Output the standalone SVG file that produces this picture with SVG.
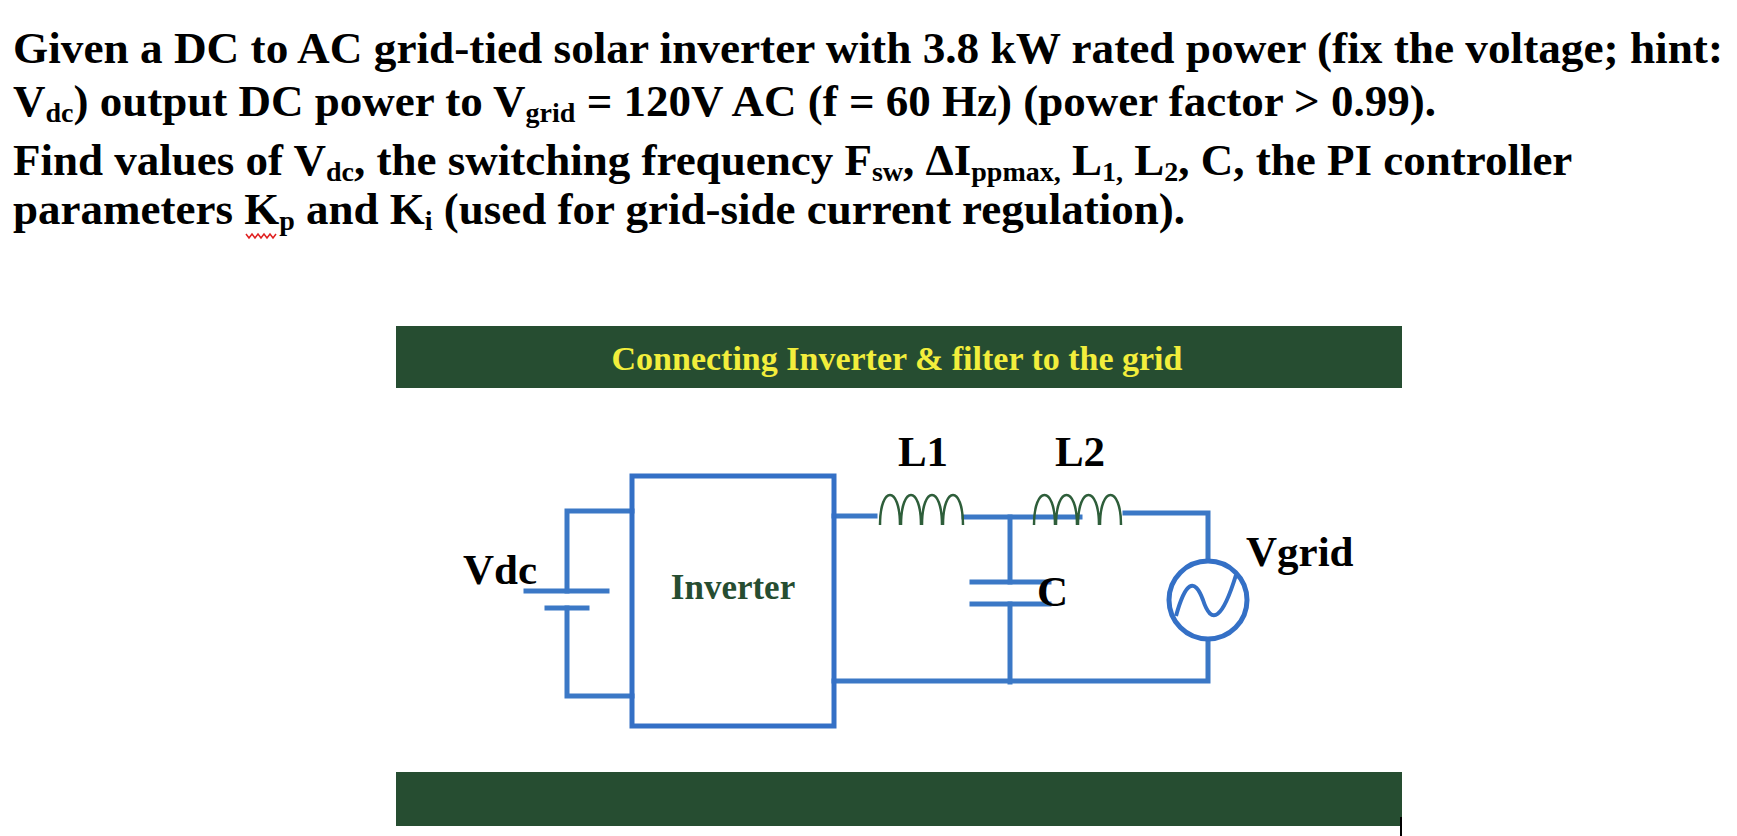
<svg xmlns="http://www.w3.org/2000/svg" width="1737" height="836" viewBox="0 0 1737 836">
<style>
.q{font-family:"Liberation Serif",serif;font-weight:bold;font-size:45px;fill:#000}
.w{fill:none;stroke:#3b78c6;stroke-width:5;stroke-linecap:square}
.coil{fill:none;stroke:#2e5e3a;stroke-width:2.5}
.lbl{font-family:"Liberation Serif",serif;font-weight:bold;font-size:43px;fill:#000}
.band{fill:#264d31}
</style>
<rect width="1737" height="836" fill="#fff"/>
<g id="question">
<text class="q" x="13" y="63" textLength="1710" lengthAdjust="spacingAndGlyphs">Given a DC to AC grid-tied solar inverter with 3.8 kW rated power (fix the voltage; hint:</text>
<text class="q" x="13" y="116">V<tspan font-size="28" dy="6">dc</tspan><tspan dy="-6">) output DC power to V</tspan><tspan font-size="28" dy="6">grid</tspan><tspan dy="-6"> = 120V AC (f = 60 Hz) (power factor &gt; 0.99).</tspan></text>
<text class="q" x="13" y="175">Find values of V<tspan font-size="28" dy="6">dc</tspan><tspan dy="-6">, the switching frequency F</tspan><tspan font-size="28" dy="6">sw</tspan><tspan dy="-6">, ΔI</tspan><tspan font-size="28" dy="6">ppmax,</tspan><tspan dy="-6"> L</tspan><tspan font-size="28" dy="6">1,</tspan><tspan dy="-6"> L</tspan><tspan font-size="28" dy="6">2</tspan><tspan dy="-6">, C, the PI controller</tspan></text>
<text class="q" x="13" y="224">parameters K<tspan font-size="28" dy="6">p</tspan><tspan dy="-6"> and K</tspan><tspan font-size="28" dy="6">i</tspan><tspan dy="-6"> (used for grid-side current regulation).</tspan></text>
<polyline points="246,234 249,238 252,234 255,238 258,234 261,238 264,234 267,238 270,234 273,238 276,234" fill="none" stroke="#e02020" stroke-width="1.5"/>
</g>
<g id="header"><rect class="band" x="396" y="326" width="1006" height="62"/>
<text x="897" y="370" text-anchor="middle" font-family="Liberation Serif,serif" font-weight="bold" font-size="34" fill="#f2ee3c">Connecting Inverter &amp; filter to the grid</text></g>
<g id="footer"><rect class="band" x="396" y="772" width="1006" height="54"/>
<line x1="1401" y1="817" x2="1401" y2="836" stroke="#000" stroke-width="2"/></g>
<g id="connectors">
<polyline class="w" points="632,511 567,511 567,591"/>
<polyline class="w" points="567,608 567,696 632,696"/>
<polyline class="w" points="834,516 875,516"/>
<polyline class="w" points="964,517 1080,517"/>
<polyline class="w" points="1010,517 1010,582"/>
<polyline class="w" points="1010,604 1010,682"/>
<polyline class="w" points="1125,513 1208,513 1208,560"/>
<polyline class="w" points="1208,640 1208,681 834,681"/>
</g>
<g id="battery"><line class="w" x1="526" y1="591" x2="607" y2="591"/><line class="w" x1="547" y1="608" x2="587" y2="608"/>
<text class="lbl" x="463" y="584">Vdc</text></g>
<g id="inverter"><rect x="632" y="476" width="202" height="250" fill="none" stroke="#3470c6" stroke-width="5"/>
<text x="733" y="599" text-anchor="middle" font-family="Liberation Serif,serif" font-weight="bold" font-size="35" fill="#264d31">Inverter</text></g>
<g id="L1"><path class="coil" d="M880,525 C880,485 900,485 900,525 M901,525 C901,485 921,485 921,525 M922,525 C922,485 942,485 942,525 M943,525 C943,485 963,485 963,525"/>
<text class="lbl" x="923" y="466" text-anchor="middle">L1</text></g>
<g id="L2"><path class="coil" d="M1034,525 C1034,485 1055,485 1055,525 M1056,525 C1056,485 1077,485 1077,525 M1078,525 C1078,485 1099,485 1099,525 M1100,525 C1100,485 1121,485 1121,525"/>
<text class="lbl" x="1080" y="466" text-anchor="middle">L2</text></g>
<g id="capacitor"><line class="w" x1="972" y1="582" x2="1049" y2="582"/><line class="w" x1="972" y1="604" x2="1049" y2="604"/>
<text class="lbl" x="1037" y="606">C</text></g>
<g id="source"><circle cx="1208" cy="600" r="39" fill="none" stroke="#3470c6" stroke-width="5"/>
<path d="M1176,616 Q1190,565 1203,600 Q1216,640 1236,575" fill="none" stroke="#3470c6" stroke-width="4"/>
<text class="lbl" x="1246" y="566">Vgrid</text></g>
</svg>
